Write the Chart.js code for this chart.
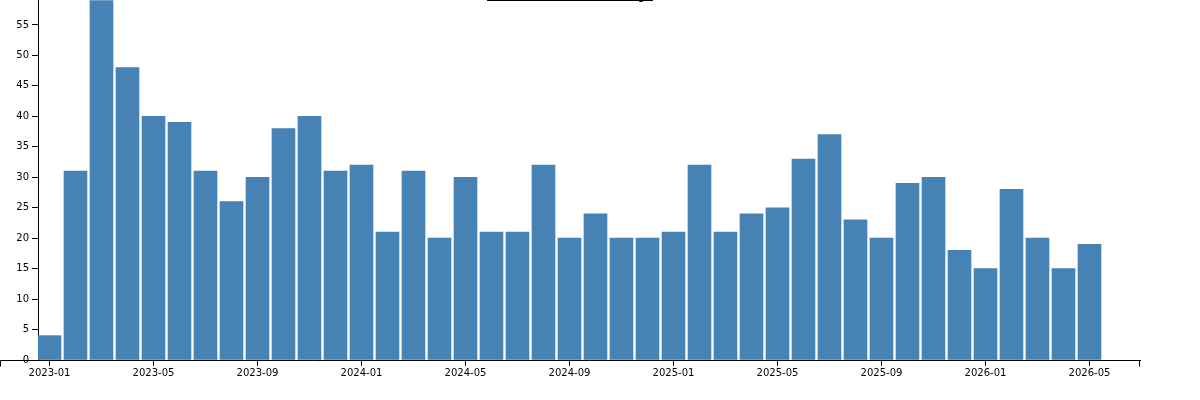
<!DOCTYPE html>
<html>
<head>
<meta charset="utf-8">
<script src="https://cdn.jsdelivr.net/npm/chart.js@4/dist/chart.umd.min.js"></script>
<style>
  html, body { margin: 0; padding: 0; background: #fff; }
  #wrap { width: 1200px; height: 400px; position: relative; }
</style>
</head>
<body>
<div id="wrap"><canvas id="c" width="1200" height="400"></canvas></div>
<script>
// ---- data ----
const months = [
  "2023-01","2023-02","2023-03","2023-04","2023-05","2023-06","2023-07","2023-08","2023-09","2023-10","2023-11","2023-12",
  "2024-01","2024-02","2024-03","2024-04","2024-05","2024-06","2024-07","2024-08","2024-09","2024-10","2024-11","2024-12",
  "2025-01","2025-02","2025-03","2025-04","2025-05","2025-06","2025-07","2025-08","2025-09","2025-10","2025-11","2025-12",
  "2026-01","2026-02","2026-03","2026-04","2026-05"
];
const counts = [
  4, 31, 59, 48, 40, 39, 31, 26, 30, 38, 40, 31,
  32, 21, 31, 20, 30, 21, 21, 32, 20, 24, 20, 20,
  21, 32, 21, 24, 25, 33, 37, 23, 20, 29, 30, 18,
  15, 28, 20, 15, 19
];
const xTickLabels = ["2023-01","2023-05","2023-09","2024-01","2024-05","2024-09","2025-01","2025-05","2025-09","2026-01","2026-05"];
const yTicks = [0,5,10,15,20,25,30,35,40,45,50,55];
const titleText = "Total Number of Meetups";

const xTickIndex = xTickLabels.map(l => months.indexOf(l));
const points = counts.map((v, i) => ({ x: i, y: v }));

const FONT = { family: "'DejaVu Sans', sans-serif", size: 10 };

const extras = {
  id: 'extras',
  afterDraw(chart) {
    const ctx = chart.ctx;
    const xs = chart.scales.x, ys = chart.scales.y;
    const y0 = Math.round(ys.getPixelForValue(0)) + 0.5;
    ctx.save();
    ctx.strokeStyle = '#000';
    ctx.lineWidth = 1;
    ctx.beginPath();
    // axis domain extends to the left edge with outer ticks
    ctx.moveTo(0.5, y0 + 6); ctx.lineTo(0.5, y0); ctx.lineTo(xs.left, y0);
    ctx.moveTo(xs.right - 0.5, y0); ctx.lineTo(xs.right - 0.5, y0 + 6);
    ctx.stroke();
    // clipped, underlined title
    let size = 16;
    ctx.font = "bold " + size + "px 'Liberation Serif', serif";
    size = size * 166 / ctx.measureText(titleText).width;
    ctx.font = "bold " + size.toFixed(2) + "px 'Liberation Serif', serif";
    ctx.fillStyle = '#000';
    ctx.textAlign = 'center';
    ctx.textBaseline = 'alphabetic';
    const cx = 570;
    ctx.fillText(titleText, cx, -1);
    const w = ctx.measureText(titleText).width;
    ctx.fillRect(cx - w / 2, 0, w, 1);
    ctx.restore();
  }
};

new Chart(document.getElementById('c'), {
  type: 'bar',
  data: {
    datasets: [{
      data: points,
      backgroundColor: '#4682b4',
      borderWidth: 0,
      barThickness: 23
    }]
  },
  options: {
    responsive: false,
    animation: false,
    layout: { padding: { left: 0, right: 60, top: 0, bottom: 0 } },
    plugins: { legend: { display: false }, tooltip: { enabled: false }, title: { display: false } },
    scales: {
      x: {
        type: 'linear',
        offset: false,
        min: -0.4423,
        max: 41.9423,
        afterBuildTicks(scale) { scale.ticks = xTickIndex.map(v => ({ value: v })); },
        afterFit(scale) { scale.height = 40; scale.paddingLeft = 0; scale.paddingRight = 0; },
        ticks: {
          autoSkip: false,
          maxRotation: 0,
          color: '#000',
          font: FONT,
          padding: 1,
          callback(value) { const i = xTickIndex.indexOf(value); return i >= 0 ? xTickLabels[i] : ''; }
        },
        grid: { offset: false, drawOnChartArea: false, drawTicks: true, tickLength: 6, color: '#000' },
        border: { display: true, color: '#000', width: 1 }
      },
      y: {
        type: 'linear',
        min: 0,
        max: 59.1,
        afterBuildTicks(scale) { scale.ticks = yTicks.map(v => ({ value: v })); },
        afterFit(scale) { scale.width = 38; scale.paddingTop = 0; scale.paddingBottom = 0; },
        ticks: { color: '#000', font: FONT, padding: 3 },
        grid: { drawOnChartArea: false, drawTicks: true, tickLength: 6, color: '#000' },
        border: { display: true, color: '#000', width: 1 }
      }
    }
  },
  plugins: [extras]
});
</script>
</body>
</html>
